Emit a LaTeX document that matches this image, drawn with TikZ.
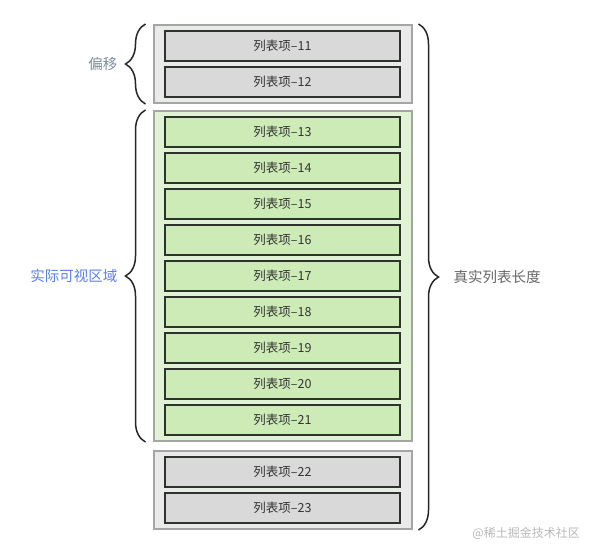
\documentclass[tikz,border=0pt]{standalone}
\usepackage{fontspec}
\setmainfont{Noto Sans CJK SC}
\usepackage{tikz}
\usetikzlibrary{positioning,fit,backgrounds,calc,decorations.pathreplacing}
\usepackage{xcolor}
\definecolor{ItemLine}{HTML}{2E332E}
\definecolor{ItemGray}{HTML}{D9D9D9}
\definecolor{ItemGreen}{HTML}{CDEBB6}
\definecolor{GroupLine}{HTML}{A3A6A3}
\definecolor{GroupGray}{HTML}{EAEAEA}
\definecolor{GroupGreen}{HTML}{E0F3D5}
\definecolor{OffsetBlue}{HTML}{7D8A9C}
\definecolor{ViewBlue}{HTML}{5B7FEA}
\definecolor{LengthGray}{HTML}{666666}
\definecolor{WaterGray}{HTML}{B8B8B8}

\begin{document}
\begin{tikzpicture}[
  x=1pt, y=1pt,
  node distance=6pt,
  every node/.style={font=\fontsize{12.5}{14}\selectfont, text=black!80},
  itembox/.style={draw=ItemLine, line width=2pt, minimum width=235pt, minimum height=30pt, inner sep=0pt, outer sep=0pt},
  grayitem/.style={itembox, fill=ItemGray},
  greenitem/.style={itembox, fill=ItemGreen},
  groupbox/.style={draw=GroupLine, line width=2pt, inner xsep=11.5pt, inner ysep=6pt},
  bracepath/.style={decorate, decoration={brace, amplitude=20pt}, line width=1.5pt, draw=black!85},
  sidelabel/.style={font=\fontsize{14.5}{16}\selectfont, inner sep=0pt}
]
\useasboundingbox (0,0) rectangle (594,-555);

\node[grayitem] (item11) at (282.5,-46) {列表项–11};
\node[grayitem, below=of item11] (item12) {列表项–12};
\node[greenitem, below=20pt of item12] (item13) {列表项–13};
\node[greenitem, below=of item13] (item14) {列表项–14};
\node[greenitem, below=of item14] (item15) {列表项–15};
\node[greenitem, below=of item15] (item16) {列表项–16};
\node[greenitem, below=of item16] (item17) {列表项–17};
\node[greenitem, below=of item17] (item18) {列表项–18};
\node[greenitem, below=of item18] (item19) {列表项–19};
\node[greenitem, below=of item19] (item20) {列表项–20};
\node[greenitem, below=of item20] (item21) {列表项–21};
\node[grayitem, below=22pt of item21] (item22) {列表项–22};
\node[grayitem, below=of item22] (item23) {列表项–23};

\begin{scope}[on background layer]
\node[groupbox, fill=GroupGray, fit=(item11)(item12)] (offset) {};
\node[groupbox, fill=GroupGreen, fit=(item13)(item21)] (visible) {};
\node[groupbox, fill=GroupGray, fit=(item22)(item23)] (tail) {};
\end{scope}

\coordinate (offsetlow) at ([xshift=-7pt]offset.south west);
\coordinate (offsethigh) at ([xshift=-7pt]offset.north west);
\coordinate (visiblelow) at ([xshift=-7pt]visible.south west);
\coordinate (visiblehigh) at ([xshift=-7pt]visible.north west);
\coordinate (lengthtop) at ([xshift=6pt]offset.north east);
\coordinate (lengthbottom) at ([xshift=6pt]tail.south east);

\draw[bracepath] (offsetlow) -- (offsethigh);
\draw[bracepath] (visiblelow) -- (visiblehigh);
\draw[bracepath] (lengthtop) -- (lengthbottom);

\node[sidelabel, text=OffsetBlue, anchor=east] (offsetlabel) at ($(offsetlow)!0.5!(offsethigh)+(-28pt,0)$) {偏移};
\node[sidelabel, text=ViewBlue, anchor=east] (visiblelabel) at ($(visiblelow)!0.5!(visiblehigh)+(-28pt,0)$) {实际可视区域};
\node[sidelabel, text=LengthGray, anchor=west] (lengthlabel) at ($(lengthtop)!0.5!(lengthbottom)+(35pt,0)$) {真实列表长度};

\node[font=\fontsize{12}{14}\selectfont, text=WaterGray, anchor=east, inner sep=0pt] (watermark) at (580,-533) {@稀土掘金技术社区};
\end{tikzpicture}
\end{document}
